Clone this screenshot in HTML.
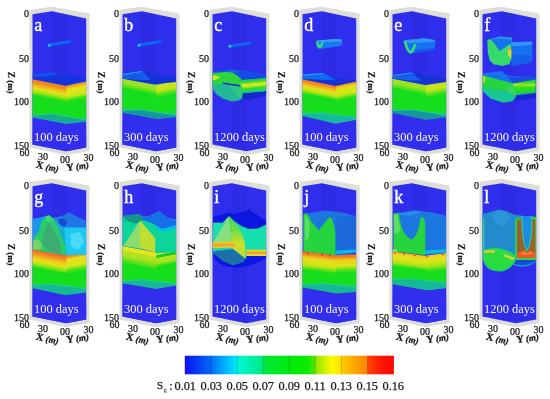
<!DOCTYPE html>
<html><head><meta charset="utf-8"><style>
html,body{margin:0;padding:0;background:#fff;}
svg{display:block;font-family:"Liberation Serif","Times New Roman",serif;}
</style></head><body>
<svg width="550" height="399" viewBox="0 0 550 399">
<defs><clipPath id="clipbox" clipPathUnits="userSpaceOnUse"><polygon points="32.5,14.2 51.9,11.2 86.2,18.5 86.2,147.4 66.2,151.3 32.5,144.5"/></clipPath><linearGradient id="g1" gradientUnits="userSpaceOnUse" x1="0" y1="85.3" x2="0" y2="124.5"><stop offset="0.0000" stop-color="rgb(40,190,170)"/><stop offset="0.0255" stop-color="rgb(240,122,35)"/><stop offset="0.0944" stop-color="rgb(242,140,30)"/><stop offset="0.1709" stop-color="rgb(240,188,30)"/><stop offset="0.2474" stop-color="rgb(226,228,25)"/><stop offset="0.3367" stop-color="rgb(150,228,20)"/><stop offset="0.4260" stop-color="rgb(25,222,30)"/><stop offset="0.8597" stop-color="rgb(25,222,30)"/><stop offset="1.0000" stop-color="rgb(20,205,100)"/></linearGradient><linearGradient id="g2" gradientUnits="userSpaceOnUse" x1="0" y1="85.3" x2="0" y2="124.5"><stop offset="0.0000" stop-color="rgb(40,190,170)"/><stop offset="0.0179" stop-color="rgb(240,140,32)"/><stop offset="0.0689" stop-color="rgb(238,185,30)"/><stop offset="0.1199" stop-color="rgb(228,228,25)"/><stop offset="0.2985" stop-color="rgb(205,230,25)"/><stop offset="0.3878" stop-color="rgb(60,225,25)"/><stop offset="0.4515" stop-color="rgb(25,222,30)"/><stop offset="0.8597" stop-color="rgb(25,222,30)"/><stop offset="1.0000" stop-color="rgb(20,205,100)"/></linearGradient><linearGradient id="g3" gradientUnits="userSpaceOnUse" x1="0" y1="84.5" x2="0" y2="119.2"><stop offset="0.0000" stop-color="rgb(40,200,160)"/><stop offset="0.0288" stop-color="rgb(150,226,35)"/><stop offset="0.1297" stop-color="rgb(160,226,35)"/><stop offset="0.2161" stop-color="rgb(100,225,30)"/><stop offset="0.3026" stop-color="rgb(25,222,30)"/><stop offset="0.8213" stop-color="rgb(25,222,30)"/><stop offset="1.0000" stop-color="rgb(20,205,120)"/></linearGradient><linearGradient id="g4" gradientUnits="userSpaceOnUse" x1="0" y1="84.5" x2="0" y2="119.2"><stop offset="0.0000" stop-color="rgb(40,200,160)"/><stop offset="0.0288" stop-color="rgb(200,228,30)"/><stop offset="0.1873" stop-color="rgb(200,228,28)"/><stop offset="0.3026" stop-color="rgb(80,225,30)"/><stop offset="0.3890" stop-color="rgb(25,222,30)"/><stop offset="0.8213" stop-color="rgb(25,222,30)"/><stop offset="1.0000" stop-color="rgb(20,205,120)"/></linearGradient><linearGradient id="g5" gradientUnits="userSpaceOnUse" x1="0" y1="85.0" x2="0" y2="123.8"><stop offset="0.0000" stop-color="rgb(40,190,170)"/><stop offset="0.0258" stop-color="rgb(240,118,38)"/><stop offset="0.0773" stop-color="rgb(242,135,32)"/><stop offset="0.1418" stop-color="rgb(240,185,30)"/><stop offset="0.2062" stop-color="rgb(228,226,26)"/><stop offset="0.3093" stop-color="rgb(170,228,22)"/><stop offset="0.3866" stop-color="rgb(25,222,30)"/><stop offset="0.8247" stop-color="rgb(25,222,30)"/><stop offset="1.0000" stop-color="rgb(20,205,110)"/></linearGradient><linearGradient id="g6" gradientUnits="userSpaceOnUse" x1="0" y1="85.0" x2="0" y2="123.8"><stop offset="0.0000" stop-color="rgb(40,190,170)"/><stop offset="0.0206" stop-color="rgb(240,140,32)"/><stop offset="0.0644" stop-color="rgb(238,190,30)"/><stop offset="0.1160" stop-color="rgb(228,228,25)"/><stop offset="0.2835" stop-color="rgb(200,230,25)"/><stop offset="0.3737" stop-color="rgb(60,225,25)"/><stop offset="0.4381" stop-color="rgb(25,222,30)"/><stop offset="0.8247" stop-color="rgb(25,222,30)"/><stop offset="1.0000" stop-color="rgb(20,205,110)"/></linearGradient><linearGradient id="g7" gradientUnits="userSpaceOnUse" x1="0" y1="84.5" x2="0" y2="120"><stop offset="0.0000" stop-color="rgb(40,200,160)"/><stop offset="0.0282" stop-color="rgb(150,226,35)"/><stop offset="0.1268" stop-color="rgb(160,226,35)"/><stop offset="0.2113" stop-color="rgb(100,225,30)"/><stop offset="0.2958" stop-color="rgb(25,222,30)"/><stop offset="0.8028" stop-color="rgb(25,222,30)"/><stop offset="1.0000" stop-color="rgb(20,205,120)"/></linearGradient><linearGradient id="g8" gradientUnits="userSpaceOnUse" x1="0" y1="84.5" x2="0" y2="120"><stop offset="0.0000" stop-color="rgb(40,200,160)"/><stop offset="0.0282" stop-color="rgb(200,228,30)"/><stop offset="0.1831" stop-color="rgb(200,228,28)"/><stop offset="0.2958" stop-color="rgb(80,225,30)"/><stop offset="0.3803" stop-color="rgb(25,222,30)"/><stop offset="0.8028" stop-color="rgb(25,222,30)"/><stop offset="1.0000" stop-color="rgb(20,205,120)"/></linearGradient><linearGradient id="g9" gradientUnits="userSpaceOnUse" x1="0" y1="82.6" x2="0" y2="123.2"><stop offset="0.0000" stop-color="rgb(240,95,40)"/><stop offset="0.0837" stop-color="rgb(244,118,34)"/><stop offset="0.1576" stop-color="rgb(242,160,30)"/><stop offset="0.2315" stop-color="rgb(236,205,28)"/><stop offset="0.3054" stop-color="rgb(225,228,25)"/><stop offset="0.4039" stop-color="rgb(140,228,25)"/><stop offset="0.4778" stop-color="rgb(25,222,30)"/><stop offset="0.8719" stop-color="rgb(25,222,30)"/><stop offset="1.0000" stop-color="rgb(20,205,100)"/></linearGradient><linearGradient id="g10" gradientUnits="userSpaceOnUse" x1="0" y1="82.6" x2="0" y2="123.2"><stop offset="0.0000" stop-color="rgb(240,120,35)"/><stop offset="0.0714" stop-color="rgb(240,150,30)"/><stop offset="0.1330" stop-color="rgb(230,222,28)"/><stop offset="0.3054" stop-color="rgb(215,230,25)"/><stop offset="0.4039" stop-color="rgb(80,225,25)"/><stop offset="0.4778" stop-color="rgb(25,222,30)"/><stop offset="0.8719" stop-color="rgb(25,222,30)"/><stop offset="1.0000" stop-color="rgb(20,205,100)"/></linearGradient><linearGradient id="g11" gradientUnits="userSpaceOnUse" x1="0" y1="80.5" x2="0" y2="117.1"><stop offset="0.0000" stop-color="rgb(232,230,30)"/><stop offset="0.1038" stop-color="rgb(228,230,30)"/><stop offset="0.1311" stop-color="rgb(185,226,35)"/><stop offset="0.2596" stop-color="rgb(170,226,32)"/><stop offset="0.3962" stop-color="rgb(90,224,30)"/><stop offset="0.4781" stop-color="rgb(25,222,30)"/><stop offset="0.9426" stop-color="rgb(25,222,30)"/><stop offset="1.0000" stop-color="rgb(20,205,100)"/></linearGradient><linearGradient id="g12" gradientUnits="userSpaceOnUse" x1="0" y1="79.8" x2="0" y2="117"><stop offset="0.0000" stop-color="rgb(232,230,30)"/><stop offset="0.0860" stop-color="rgb(225,228,30)"/><stop offset="0.1022" stop-color="rgb(20,200,40)"/><stop offset="0.1613" stop-color="rgb(30,205,40)"/><stop offset="0.1801" stop-color="rgb(180,228,30)"/><stop offset="0.3011" stop-color="rgb(165,228,30)"/><stop offset="0.4086" stop-color="rgb(25,222,30)"/><stop offset="0.9194" stop-color="rgb(25,222,30)"/><stop offset="1.0000" stop-color="rgb(20,205,100)"/></linearGradient><linearGradient id="g13" gradientUnits="userSpaceOnUse" x1="0" y1="83.0" x2="0" y2="123.5"><stop offset="0.0000" stop-color="rgb(240,105,42)"/><stop offset="0.0370" stop-color="rgb(242,118,38)"/><stop offset="0.0864" stop-color="rgb(240,150,32)"/><stop offset="0.1358" stop-color="rgb(236,200,28)"/><stop offset="0.1975" stop-color="rgb(226,226,25)"/><stop offset="0.3210" stop-color="rgb(205,228,25)"/><stop offset="0.3951" stop-color="rgb(120,226,25)"/><stop offset="0.4568" stop-color="rgb(25,222,30)"/><stop offset="0.8395" stop-color="rgb(25,222,30)"/><stop offset="1.0000" stop-color="rgb(20,200,110)"/></linearGradient><linearGradient id="g14" gradientUnits="userSpaceOnUse" x1="0" y1="82.8" x2="0" y2="123.5"><stop offset="0.0000" stop-color="rgb(240,110,40)"/><stop offset="0.0663" stop-color="rgb(242,130,32)"/><stop offset="0.1278" stop-color="rgb(236,205,28)"/><stop offset="0.2752" stop-color="rgb(220,230,25)"/><stop offset="0.3735" stop-color="rgb(90,225,25)"/><stop offset="0.4472" stop-color="rgb(25,222,30)"/><stop offset="0.8403" stop-color="rgb(25,222,30)"/><stop offset="1.0000" stop-color="rgb(20,200,110)"/></linearGradient><linearGradient id="g15" gradientUnits="userSpaceOnUse" x1="0" y1="83.8" x2="0" y2="118.5"><stop offset="0.0000" stop-color="rgb(240,175,40)"/><stop offset="0.0461" stop-color="rgb(238,200,35)"/><stop offset="0.0922" stop-color="rgb(228,224,28)"/><stop offset="0.2363" stop-color="rgb(215,228,25)"/><stop offset="0.3372" stop-color="rgb(150,226,25)"/><stop offset="0.4236" stop-color="rgb(25,222,30)"/><stop offset="0.8991" stop-color="rgb(25,222,30)"/><stop offset="1.0000" stop-color="rgb(20,205,100)"/></linearGradient><linearGradient id="g16" gradientUnits="userSpaceOnUse" x1="0" y1="83.5" x2="0" y2="118.5"><stop offset="0.0000" stop-color="rgb(238,185,38)"/><stop offset="0.0543" stop-color="rgb(228,222,28)"/><stop offset="0.2143" stop-color="rgb(212,230,25)"/><stop offset="0.3571" stop-color="rgb(140,226,25)"/><stop offset="0.4714" stop-color="rgb(25,222,30)"/><stop offset="0.9000" stop-color="rgb(25,222,30)"/><stop offset="1.0000" stop-color="rgb(20,205,100)"/></linearGradient><linearGradient id="g17" gradientUnits="userSpaceOnUse" x1="184.8" y1="0" x2="210.9" y2="0"><stop offset="0" stop-color="rgb(15,15,245)"/><stop offset="1" stop-color="rgb(0,105,245)"/></linearGradient><linearGradient id="g18" gradientUnits="userSpaceOnUse" x1="210.9" y1="0" x2="237.0" y2="0"><stop offset="0" stop-color="rgb(0,110,250)"/><stop offset="1" stop-color="rgb(0,235,255)"/></linearGradient><linearGradient id="g19" gradientUnits="userSpaceOnUse" x1="237.0" y1="0" x2="263.1" y2="0"><stop offset="0" stop-color="rgb(0,245,215)"/><stop offset="1" stop-color="rgb(0,235,130)"/></linearGradient><linearGradient id="g20" gradientUnits="userSpaceOnUse" x1="263.1" y1="0" x2="289.20000000000005" y2="0"><stop offset="0" stop-color="rgb(0,232,60)"/><stop offset="1" stop-color="rgb(0,235,15)"/></linearGradient><linearGradient id="g21" gradientUnits="userSpaceOnUse" x1="289.20000000000005" y1="0" x2="315.30000000000007" y2="0"><stop offset="0" stop-color="rgb(0,235,10)"/><stop offset="0.7" stop-color="rgb(10,235,0)"/><stop offset="1" stop-color="rgb(90,230,0)"/></linearGradient><linearGradient id="g22" gradientUnits="userSpaceOnUse" x1="315.3" y1="0" x2="341.40000000000003" y2="0"><stop offset="0" stop-color="rgb(140,230,0)"/><stop offset="0.65" stop-color="rgb(255,250,0)"/><stop offset="1" stop-color="rgb(250,225,0)"/></linearGradient><linearGradient id="g23" gradientUnits="userSpaceOnUse" x1="341.40000000000003" y1="0" x2="367.50000000000006" y2="0"><stop offset="0" stop-color="rgb(255,205,0)"/><stop offset="1" stop-color="rgb(255,130,0)"/></linearGradient><linearGradient id="g24" gradientUnits="userSpaceOnUse" x1="367.5" y1="0" x2="393.6" y2="0"><stop offset="0" stop-color="rgb(255,70,0)"/><stop offset="0.5" stop-color="rgb(255,25,0)"/><stop offset="1" stop-color="rgb(255,5,0)"/></linearGradient>
<linearGradient id="trii" gradientUnits="userSpaceOnUse" x1="0" y1="45" x2="0" y2="84">
<stop offset="0" stop-color="rgb(70,215,100)"/><stop offset="0.35" stop-color="rgb(110,220,70)"/>
<stop offset="0.65" stop-color="rgb(200,222,45)"/><stop offset="1" stop-color="rgb(200,220,50)"/></linearGradient>
<linearGradient id="bandc" gradientUnits="userSpaceOnUse" x1="0" y1="79" x2="0" y2="92">
<stop offset="0" stop-color="rgb(40,210,80)"/><stop offset="0.18" stop-color="rgb(60,220,40)"/>
<stop offset="0.42" stop-color="rgb(225,232,25)"/><stop offset="0.58" stop-color="rgb(160,228,30)"/>
<stop offset="0.8" stop-color="rgb(40,215,60)"/><stop offset="1" stop-color="rgb(10,200,170)"/></linearGradient>
<linearGradient id="bandf" gradientUnits="userSpaceOnUse" x1="0" y1="79" x2="0" y2="95">
<stop offset="0" stop-color="rgb(40,210,80)"/><stop offset="0.2" stop-color="rgb(40,222,30)"/>
<stop offset="0.38" stop-color="rgb(175,230,30)"/><stop offset="0.5" stop-color="rgb(60,222,30)"/>
<stop offset="0.85" stop-color="rgb(25,215,50)"/><stop offset="1" stop-color="rgb(10,200,170)"/></linearGradient>
<filter id="soft" x="-5%" y="-5%" width="110%" height="110%"><feGaussianBlur stdDeviation="0.45"/></filter></defs>
<rect width="550" height="399" fill="#fff"/>
<g transform="translate(0,0)"><polygon points="29.4,9.8 51.9,6.8 89.6,13.6 89.6,151.0 66.2,155.3 29.6,147.6" fill="rgb(222,222,216)"/><polygon points="32.5,14.2 51.9,11.2 86.2,18.5 86.2,147.4 66.2,151.3 32.5,144.5" fill="rgb(48,46,237)"/><g clip-path="url(#clipbox)"><rect x="51.9" y="0" width="14.300000000000004" height="160" fill="rgb(0,0,60)" opacity="0.06"/><g filter="url(#soft)"><g transform="matrix(1,0.2,0,1,0,-13.240)"><rect x="31.5" y="85.3" width="35.5" height="39.2" fill="url(#g1)"/></g><g transform="matrix(1,-0.195,0,1,0,12.909)"><rect x="66.2" y="85.3" width="21.0" height="39.2" fill="url(#g2)"/></g><polygon points="32.5,74.2 51.3,72.1 86.2,78.9 86.2,80.6 65.6,85.7 32.5,79.2" fill="rgb(22,50,222)"/><polygon points="32.5,115.6 51.8,113.7 86.2,120.0 86.2,121.4 66,123.4 32.5,117.2" fill="rgb(22,172,138)"/><polyline points="32.5,115.6 51.8,113.7 86.2,120.0" fill="none" stroke="rgb(40,210,200)" stroke-width="0.8" opacity="0.7"/><polygon points="32.5,74.2 51.3,72.1 60,74 45,76.5 32.5,77" fill="rgb(20,80,235)"/><polygon points="86.2,121.4 66,123.4 32.5,117.2 31,160 88,160" fill="rgb(48,46,237)"/><polyline points="86.2,121.4 66,123.4 32.5,117.2" fill="none" stroke="rgb(30,200,210)" stroke-width="0.7" opacity="0.8"/><line x1="49.2" y1="45.2" x2="69.8" y2="42" stroke="rgb(10,88,242)" stroke-width="3.2" stroke-linecap="round"/><line x1="50.2" y1="44.400000000000006" x2="69.8" y2="41.2" stroke="rgb(25,120,245)" stroke-width="1"/><circle cx="49.2" cy="45.2" r="1.5" fill="rgb(30,190,240)"/></g></g><text x="34.2" y="30.8" font-size="18" fill="#fff" text-anchor="start" stroke="#fff" stroke-width="0.35">a</text><text x="34.0" y="141" font-size="12.45" fill="#f4f4ff" text-anchor="start">100 days</text><text x="29" y="17.1" font-size="10" fill="#1a1a1a" text-anchor="end" stroke="#1a1a1a" stroke-width="0.25">0</text><text x="29" y="61.6" font-size="10" fill="#1a1a1a" text-anchor="end" stroke="#1a1a1a" stroke-width="0.25">50</text><text x="29" y="105.0" font-size="10" fill="#1a1a1a" text-anchor="end" stroke="#1a1a1a" stroke-width="0.25">100</text><text x="29" y="148.8" font-size="10" fill="#1a1a1a" text-anchor="end" stroke="#1a1a1a" stroke-width="0.25">150</text><text x="29.5" y="155.5" font-size="10" fill="#1a1a1a" text-anchor="end" stroke="#1a1a1a" stroke-width="0.25">60</text><text x="43" y="159.6" font-size="10" fill="#1a1a1a" text-anchor="middle" stroke="#1a1a1a" stroke-width="0.25">30</text><text x="65" y="162.8" font-size="10" fill="#1a1a1a" text-anchor="middle" stroke="#1a1a1a" stroke-width="0.25">00</text><text x="88.5" y="161" font-size="10" fill="#1a1a1a" text-anchor="middle" stroke="#1a1a1a" stroke-width="0.25">30</text><text transform="translate(35.6,167.6) rotate(12)" font-size="10.2" font-weight="bold" fill="#1a1a1a" stroke="#1a1a1a" stroke-width="0.3">X <tspan font-style="italic" font-size="9">(m)</tspan></text><text transform="translate(67,171) rotate(-8)" font-size="10" font-weight="bold" fill="#1a1a1a" stroke="#1a1a1a" stroke-width="0.3">Y <tspan font-style="italic" font-size="9">(m)</tspan></text><text transform="translate(7.6,71.8) rotate(90)" font-size="9.3" font-weight="bold" fill="#1a1a1a" stroke="#1a1a1a" stroke-width="0.2">Z <tspan font-size="8.8">(m)</tspan></text></g><g transform="translate(90,0)"><polygon points="29.4,9.8 51.9,6.8 89.6,13.6 89.6,151.0 66.2,155.3 29.6,147.6" fill="rgb(222,222,216)"/><polygon points="32.5,14.2 51.9,11.2 86.2,18.5 86.2,147.4 66.2,151.3 32.5,144.5" fill="rgb(48,46,237)"/><g clip-path="url(#clipbox)"><rect x="51.9" y="0" width="14.300000000000004" height="160" fill="rgb(0,0,60)" opacity="0.06"/><g filter="url(#soft)"><g transform="matrix(1,0.2,0,1,0,-13.240)"><rect x="31.5" y="84.5" width="35.5" height="34.7" fill="url(#g3)"/></g><g transform="matrix(1,-0.195,0,1,0,12.909)"><rect x="66.2" y="84.5" width="21.0" height="34.7" fill="url(#g4)"/></g><polygon points="32.5,74.1 51.3,71.0 86.2,77.2 86.2,81.9 63,84.2 32.5,78.8" fill="rgb(20,48,215)"/><polygon points="32.5,110.6 51.3,109.8 86.2,115.3 86.2,117.6 66.8,119.2 32.5,113" fill="rgb(25,150,160)"/><polyline points="32.5,110.6 51.3,109.8 86.2,115.3" fill="none" stroke="rgb(40,210,200)" stroke-width="0.8" opacity="0.7"/><polygon points="32.5,74.1 51.3,71.0 54,72 56,75.5 61,80 50,80 32.5,78.8" fill="rgb(20,90,236)"/><polygon points="32.5,74.1 51.3,71.0 52,72 33,75.2" fill="rgb(40,150,245)"/><polygon points="86.2,117.6 66.8,119.2 32.5,113 31,160 88,160" fill="rgb(48,46,237)"/><line x1="49" y1="45.2" x2="70.3" y2="41.8" stroke="rgb(10,88,242)" stroke-width="3.2" stroke-linecap="round"/><line x1="50" y1="44.400000000000006" x2="70.3" y2="41.0" stroke="rgb(25,120,245)" stroke-width="1"/><circle cx="49" cy="45.2" r="1.5" fill="rgb(30,190,240)"/></g></g><text x="34.2" y="30.8" font-size="18" fill="#fff" text-anchor="start" stroke="#fff" stroke-width="0.35">b</text><text x="34.0" y="141" font-size="12.45" fill="#f4f4ff" text-anchor="start">300 days</text><text x="29" y="17.1" font-size="10" fill="#1a1a1a" text-anchor="end" stroke="#1a1a1a" stroke-width="0.25">0</text><text x="29" y="61.6" font-size="10" fill="#1a1a1a" text-anchor="end" stroke="#1a1a1a" stroke-width="0.25">50</text><text x="29" y="105.0" font-size="10" fill="#1a1a1a" text-anchor="end" stroke="#1a1a1a" stroke-width="0.25">100</text><text x="29" y="148.8" font-size="10" fill="#1a1a1a" text-anchor="end" stroke="#1a1a1a" stroke-width="0.25">150</text><text x="29.5" y="155.5" font-size="10" fill="#1a1a1a" text-anchor="end" stroke="#1a1a1a" stroke-width="0.25">60</text><text x="43" y="159.6" font-size="10" fill="#1a1a1a" text-anchor="middle" stroke="#1a1a1a" stroke-width="0.25">30</text><text x="65" y="162.8" font-size="10" fill="#1a1a1a" text-anchor="middle" stroke="#1a1a1a" stroke-width="0.25">00</text><text x="88.5" y="161" font-size="10" fill="#1a1a1a" text-anchor="middle" stroke="#1a1a1a" stroke-width="0.25">30</text><text transform="translate(35.6,167.6) rotate(12)" font-size="10.2" font-weight="bold" fill="#1a1a1a" stroke="#1a1a1a" stroke-width="0.3">X <tspan font-style="italic" font-size="9">(m)</tspan></text><text transform="translate(67,171) rotate(-8)" font-size="10" font-weight="bold" fill="#1a1a1a" stroke="#1a1a1a" stroke-width="0.3">Y <tspan font-style="italic" font-size="9">(m)</tspan></text><text transform="translate(7.6,71.8) rotate(90)" font-size="9.3" font-weight="bold" fill="#1a1a1a" stroke="#1a1a1a" stroke-width="0.2">Z <tspan font-size="8.8">(m)</tspan></text></g><g transform="translate(180,0)"><polygon points="29.4,9.8 51.9,6.8 89.6,13.6 89.6,151.0 66.2,155.3 29.6,147.6" fill="rgb(222,222,216)"/><polygon points="32.5,14.2 51.9,11.2 86.2,18.5 86.2,147.4 66.2,151.3 32.5,144.5" fill="rgb(48,46,237)"/><g clip-path="url(#clipbox)"><rect x="51.9" y="0" width="14.300000000000004" height="160" fill="rgb(0,0,60)" opacity="0.06"/><g filter="url(#soft)"><polygon points="32.5,71.4 51,69.2 70,71 86.2,75.2 86.2,79 63,81 32.5,75" fill="rgb(25,75,228)"/><polygon points="40,72 51,69.5 62,71.5 55,73.5" fill="rgb(30,95,235)"/><polygon points="32.5,73 45,72 52,72.5 58,76 63,81 63,86 45,84 32.5,87.5" fill="rgb(45,214,60)"/><polygon points="32.5,75.5 36,75.6 40,77 36,79.8 32.5,80.2" fill="rgb(205,230,35)"/><path d="M32.5,85 L44,83.5 L62,86 L67.5,89.6 L65.3,95 L58.7,100.6 L52,101.6 L43.2,98.8 L36.6,94.5 L32.5,89 Z" fill="rgb(35,184,150)"/><path d="M50,86 L62,86 L67.5,89.6 L65.3,95 L60.5,99.5 Z" fill="rgb(45,200,125)"/><polygon points="42,82.2 63,85.4 60,86.6 44,83.9" fill="rgb(20,40,200)"/><polygon points="63,92 86.2,90 86.2,95.5 66.4,100.5 62,98" fill="rgb(25,38,205)"/><polygon points="58,80.3 86.2,78.3 86.2,91 62.5,93.3" fill="rgb(45,216,55)"/><polygon points="61,84.2 86.2,81.8 86.2,85.3 62.5,87.3" fill="rgb(215,230,32)"/><polygon points="60,83.2 86.2,80.8 86.2,81.9 61,84.3" fill="rgb(130,225,35)"/><polygon points="62.5,87.2 86.2,85.2 86.2,86.5 62.8,88.5" fill="rgb(130,225,35)"/><polygon points="62.5,91.5 86.2,89.5 86.2,91 62.5,93.3" fill="rgb(10,200,160)"/><polygon points="58,80.3 86.2,78.3 86.2,79.3 59,81.3" fill="rgb(30,200,110)"/><line x1="50" y1="46.3" x2="70.2" y2="43.3" stroke="rgb(10,88,242)" stroke-width="3.2" stroke-linecap="round"/><line x1="51" y1="45.5" x2="70.2" y2="42.5" stroke="rgb(25,120,245)" stroke-width="1"/><circle cx="50" cy="46.3" r="1.5" fill="rgb(30,205,170)"/></g></g><text x="34.2" y="30.8" font-size="18" fill="#fff" text-anchor="start" stroke="#fff" stroke-width="0.35">c</text><text x="34.0" y="141" font-size="12.45" fill="#f4f4ff" text-anchor="start">1200 days</text><text x="29" y="17.1" font-size="10" fill="#1a1a1a" text-anchor="end" stroke="#1a1a1a" stroke-width="0.25">0</text><text x="29" y="61.6" font-size="10" fill="#1a1a1a" text-anchor="end" stroke="#1a1a1a" stroke-width="0.25">50</text><text x="29" y="105.0" font-size="10" fill="#1a1a1a" text-anchor="end" stroke="#1a1a1a" stroke-width="0.25">100</text><text x="29" y="148.8" font-size="10" fill="#1a1a1a" text-anchor="end" stroke="#1a1a1a" stroke-width="0.25">150</text><text x="29.5" y="155.5" font-size="10" fill="#1a1a1a" text-anchor="end" stroke="#1a1a1a" stroke-width="0.25">60</text><text x="43" y="159.6" font-size="10" fill="#1a1a1a" text-anchor="middle" stroke="#1a1a1a" stroke-width="0.25">30</text><text x="65" y="162.8" font-size="10" fill="#1a1a1a" text-anchor="middle" stroke="#1a1a1a" stroke-width="0.25">00</text><text x="88.5" y="161" font-size="10" fill="#1a1a1a" text-anchor="middle" stroke="#1a1a1a" stroke-width="0.25">30</text><text transform="translate(35.6,167.6) rotate(12)" font-size="10.2" font-weight="bold" fill="#1a1a1a" stroke="#1a1a1a" stroke-width="0.3">X <tspan font-style="italic" font-size="9">(m)</tspan></text><text transform="translate(67,171) rotate(-8)" font-size="10" font-weight="bold" fill="#1a1a1a" stroke="#1a1a1a" stroke-width="0.3">Y <tspan font-style="italic" font-size="9">(m)</tspan></text><text transform="translate(7.6,71.8) rotate(90)" font-size="9.3" font-weight="bold" fill="#1a1a1a" stroke="#1a1a1a" stroke-width="0.2">Z <tspan font-size="8.8">(m)</tspan></text></g><g transform="translate(270,0)"><polygon points="29.4,9.8 51.9,6.8 89.6,13.6 89.6,151.0 66.2,155.3 29.6,147.6" fill="rgb(222,222,216)"/><polygon points="32.5,14.2 51.9,11.2 86.2,18.5 86.2,147.4 66.2,151.3 32.5,144.5" fill="rgb(48,46,237)"/><g clip-path="url(#clipbox)"><rect x="51.9" y="0" width="14.300000000000004" height="160" fill="rgb(0,0,60)" opacity="0.06"/><g filter="url(#soft)"><g transform="matrix(1,0.2,0,1,0,-13.240)"><rect x="31.5" y="85.0" width="35.5" height="38.8" fill="url(#g5)"/></g><g transform="matrix(1,-0.195,0,1,0,12.909)"><rect x="66.2" y="85.0" width="21.0" height="38.8" fill="url(#g6)"/></g><polygon points="32.5,75 52.9,73.3 58,76.5 86.2,80.5 86.2,81.5 65.5,86 32.5,79.3" fill="rgb(22,50,215)"/><polygon points="32.5,113.7 52.9,113 86.2,117.6 86.2,120 65.3,123.8 32.5,116" fill="rgb(25,185,155)"/><polyline points="32.5,113.7 52.9,113 86.2,117.6" fill="none" stroke="rgb(40,210,200)" stroke-width="0.8" opacity="0.7"/><polygon points="32.5,74.6 52.9,73 57.5,75.5 66.4,79.5 56,80 32.5,78.8" fill="rgb(15,108,242)"/><polygon points="32.5,74.6 52.9,73 54,73.8 33,75.8" fill="rgb(40,160,250)"/><polygon points="86.2,120 65.3,123.8 32.5,116 31,160 88,160" fill="rgb(48,46,237)"/><path d="M46.9,40.6 L65.2,39.1 L71.3,39.5 Q72.4,40 72.2,41.5 L71.8,44.8 Q71.4,45.8 70.2,46 L53.4,48.6 L49,49 Q46.2,48.5 46.1,45 Z" fill="rgb(25,122,245)"/><path d="M46.9,40.6 L65.2,39.1 L71.3,39.5 Q72.3,40 72.2,41.2 L47.5,42.6 Z" fill="rgb(55,158,250)"/><path d="M46.1,41 Q46.5,47.5 49.5,48.3 Q52.5,48 53.4,42.5 L52.5,41 Q51.5,44.5 49.5,44.5 Q47.8,44 47.3,40.8 Z" fill="rgb(50,222,110)"/></g></g><text x="34.2" y="30.8" font-size="18" fill="#fff" text-anchor="start" stroke="#fff" stroke-width="0.35">d</text><text x="34.0" y="141" font-size="12.45" fill="#f4f4ff" text-anchor="start">100 days</text><text x="29" y="17.1" font-size="10" fill="#1a1a1a" text-anchor="end" stroke="#1a1a1a" stroke-width="0.25">0</text><text x="29" y="61.6" font-size="10" fill="#1a1a1a" text-anchor="end" stroke="#1a1a1a" stroke-width="0.25">50</text><text x="29" y="105.0" font-size="10" fill="#1a1a1a" text-anchor="end" stroke="#1a1a1a" stroke-width="0.25">100</text><text x="29" y="148.8" font-size="10" fill="#1a1a1a" text-anchor="end" stroke="#1a1a1a" stroke-width="0.25">150</text><text x="29.5" y="155.5" font-size="10" fill="#1a1a1a" text-anchor="end" stroke="#1a1a1a" stroke-width="0.25">60</text><text x="43" y="159.6" font-size="10" fill="#1a1a1a" text-anchor="middle" stroke="#1a1a1a" stroke-width="0.25">30</text><text x="65" y="162.8" font-size="10" fill="#1a1a1a" text-anchor="middle" stroke="#1a1a1a" stroke-width="0.25">00</text><text x="88.5" y="161" font-size="10" fill="#1a1a1a" text-anchor="middle" stroke="#1a1a1a" stroke-width="0.25">30</text><text transform="translate(35.6,167.6) rotate(12)" font-size="10.2" font-weight="bold" fill="#1a1a1a" stroke="#1a1a1a" stroke-width="0.3">X <tspan font-style="italic" font-size="9">(m)</tspan></text><text transform="translate(67,171) rotate(-8)" font-size="10" font-weight="bold" fill="#1a1a1a" stroke="#1a1a1a" stroke-width="0.3">Y <tspan font-style="italic" font-size="9">(m)</tspan></text><text transform="translate(7.6,71.8) rotate(90)" font-size="9.3" font-weight="bold" fill="#1a1a1a" stroke="#1a1a1a" stroke-width="0.2">Z <tspan font-size="8.8">(m)</tspan></text></g><g transform="translate(360,0)"><polygon points="29.4,9.8 51.9,6.8 89.6,13.6 89.6,151.0 66.2,155.3 29.6,147.6" fill="rgb(222,222,216)"/><polygon points="32.5,14.2 51.9,11.2 86.2,18.5 86.2,147.4 66.2,151.3 32.5,144.5" fill="rgb(48,46,237)"/><g clip-path="url(#clipbox)"><rect x="51.9" y="0" width="14.300000000000004" height="160" fill="rgb(0,0,60)" opacity="0.06"/><g filter="url(#soft)"><g transform="matrix(1,0.2,0,1,0,-13.240)"><rect x="31.5" y="84.5" width="35.5" height="35.5" fill="url(#g7)"/></g><g transform="matrix(1,-0.195,0,1,0,12.909)"><rect x="66.2" y="84.5" width="21.0" height="35.5" fill="url(#g8)"/></g><polygon points="32.5,74.9 52.9,72.5 86.2,78 86.2,81.9 65.7,85 32.5,78.8" fill="rgb(20,48,215)"/><polygon points="32.5,110.6 52.9,109.8 86.2,115.3 86.2,117.6 66.5,120 32.5,113" fill="rgb(25,150,160)"/><polyline points="32.5,110.6 52.9,109.8 86.2,115.3" fill="none" stroke="rgb(40,210,200)" stroke-width="0.8" opacity="0.7"/><polygon points="32.5,74.9 51.3,72.5 54,73.3 55.5,76 62,80.5 50,80.5 32.5,78.8" fill="rgb(20,95,238)"/><polygon points="32.5,74.9 51.3,72.5 52,73.3 33,76" fill="rgb(40,150,245)"/><polygon points="86.2,117.6 66.5,120 32.5,113 31,160 88,160" fill="rgb(48,46,237)"/><path d="M44,40.3 L64.7,38.3 L74.6,39.9 Q75.8,41 75.4,43 L74.6,49 Q74,50.2 72,50.5 L55.6,52.8 L50,53.6 Z" fill="rgb(22,115,240)"/><path d="M44,40.3 L64.7,38.3 L74.6,39.9 L75.2,41.8 L46,43.2 Z" fill="rgb(50,150,250)"/><path d="M56,50 L74.6,47.5 L74.6,49 Q74,50.2 72,50.5 L55.6,52.8 Z" fill="rgb(20,90,230)"/><path d="M44.6,41.4 L47.6,49.5 Q49.5,53 51.5,52 L54.5,46.5 L55.2,44.2" fill="none" stroke="rgb(55,222,115)" stroke-width="2.6" stroke-linejoin="round"/></g></g><text x="34.2" y="30.8" font-size="18" fill="#fff" text-anchor="start" stroke="#fff" stroke-width="0.35">e</text><text x="34.0" y="141" font-size="12.45" fill="#f4f4ff" text-anchor="start">300 days</text><text x="29" y="17.1" font-size="10" fill="#1a1a1a" text-anchor="end" stroke="#1a1a1a" stroke-width="0.25">0</text><text x="29" y="61.6" font-size="10" fill="#1a1a1a" text-anchor="end" stroke="#1a1a1a" stroke-width="0.25">50</text><text x="29" y="105.0" font-size="10" fill="#1a1a1a" text-anchor="end" stroke="#1a1a1a" stroke-width="0.25">100</text><text x="29" y="148.8" font-size="10" fill="#1a1a1a" text-anchor="end" stroke="#1a1a1a" stroke-width="0.25">150</text><text x="29.5" y="155.5" font-size="10" fill="#1a1a1a" text-anchor="end" stroke="#1a1a1a" stroke-width="0.25">60</text><text x="43" y="159.6" font-size="10" fill="#1a1a1a" text-anchor="middle" stroke="#1a1a1a" stroke-width="0.25">30</text><text x="65" y="162.8" font-size="10" fill="#1a1a1a" text-anchor="middle" stroke="#1a1a1a" stroke-width="0.25">00</text><text x="88.5" y="161" font-size="10" fill="#1a1a1a" text-anchor="middle" stroke="#1a1a1a" stroke-width="0.25">30</text><text transform="translate(35.6,167.6) rotate(12)" font-size="10.2" font-weight="bold" fill="#1a1a1a" stroke="#1a1a1a" stroke-width="0.3">X <tspan font-style="italic" font-size="9">(m)</tspan></text><text transform="translate(67,171) rotate(-8)" font-size="10" font-weight="bold" fill="#1a1a1a" stroke="#1a1a1a" stroke-width="0.3">Y <tspan font-style="italic" font-size="9">(m)</tspan></text><text transform="translate(7.6,71.8) rotate(90)" font-size="9.3" font-weight="bold" fill="#1a1a1a" stroke="#1a1a1a" stroke-width="0.2">Z <tspan font-size="8.8">(m)</tspan></text></g><g transform="translate(450,0)"><polygon points="29.4,9.8 51.9,6.8 89.6,13.6 89.6,151.0 66.2,155.3 29.6,147.6" fill="rgb(222,222,216)"/><polygon points="32.5,14.2 51.9,11.2 86.2,18.5 86.2,147.4 66.2,151.3 32.5,144.5" fill="rgb(48,46,237)"/><g clip-path="url(#clipbox)"><rect x="51.9" y="0" width="14.300000000000004" height="160" fill="rgb(0,0,60)" opacity="0.06"/><g filter="url(#soft)"><path d="M32.5,74.5 L45,77.5 L58,80.5 L66,85 L66,96.3 L62.6,100.9 L53.3,102.6 L40.7,98.6 L32.5,90 Z" fill="rgb(40,212,62)"/><polygon points="32.5,75 36,77.5 35,82 32.5,83" fill="rgb(150,222,50)"/><path d="M32.5,87.8 L45,89.5 L60,91.5 L66,96.3 L62.6,100.9 L53.3,102.6 L40.7,98.6 L32.5,91 Z" fill="rgb(25,198,150)"/><polygon points="55,88 62,84 66,86 66,96.3 60,93" fill="rgb(60,210,90)"/><polygon points="66,96.3 85.6,94 85.6,97.4 66,100.9" fill="rgb(25,40,205)"/><polygon points="62.6,82.4 85.6,77.8 85.6,92.8 66,95.1" fill="url(#bandf)"/><polygon points="33.2,73.2 52.2,70.9 56.8,75.5 85.6,77.8 85.6,79.5 62.6,83.2 33.2,75.5" fill="rgb(22,112,240)"/><polygon points="58,76.5 85.6,78 85.6,79.5 62.6,83.2" fill="rgb(30,78,226)"/><polygon points="37.4,39.8 50,36.4 62.3,37.5 62.3,60 52.5,65.7 43.8,64.3 39.8,60.4 37.9,52.5" fill="rgb(25,115,238)"/><polygon points="37.4,39.8 50,36.4 62.3,37.5 61,40 50,38.5 40.8,39.4" fill="rgb(40,145,245)"/><polygon points="61.3,42.3 82.1,41.6 82.6,60 80,62.5 61.3,66.1" fill="rgb(22,112,240)"/><polygon points="61.3,42.3 82.1,41.6 82.3,45 61.3,46.5" fill="rgb(45,150,250)"/><polygon points="61.3,55 82.4,55 80,62.5 61.3,66.1" fill="rgb(25,95,232)"/><path d="M37.4,39.8 L40.8,39.4 L43.8,42.8 L49.6,51.1 L55,47.5 L58.4,44.7 L60.4,44.2 L61.3,46.7 L61.3,58.4 L59.4,64.3 L52.5,65.7 L43.8,64.3 L39.8,60.4 L37.9,52.5 Z" fill="rgb(55,220,110)"/><path d="M38.5,41 L44,55 L49.6,57 L55,55 L59,48" fill="none" stroke="rgb(30,160,90)" stroke-width="0.5" stroke-dasharray="1,1.5"/><polygon points="57.4,50.5 60,47.5 61.3,49.6 61.3,58.4 58.5,56" fill="rgb(225,215,40)"/><polygon points="58.5,48.5 60,47.2 61,48.5 59.5,51" fill="rgb(240,140,40)"/></g></g><text x="34.2" y="30.8" font-size="18" fill="#fff" text-anchor="start" stroke="#fff" stroke-width="0.35">f</text><text x="34.0" y="141" font-size="12.45" fill="#f4f4ff" text-anchor="start">1200 days</text><text x="29" y="17.1" font-size="10" fill="#1a1a1a" text-anchor="end" stroke="#1a1a1a" stroke-width="0.25">0</text><text x="29" y="61.6" font-size="10" fill="#1a1a1a" text-anchor="end" stroke="#1a1a1a" stroke-width="0.25">50</text><text x="29" y="105.0" font-size="10" fill="#1a1a1a" text-anchor="end" stroke="#1a1a1a" stroke-width="0.25">100</text><text x="29" y="148.8" font-size="10" fill="#1a1a1a" text-anchor="end" stroke="#1a1a1a" stroke-width="0.25">150</text><text x="29.5" y="155.5" font-size="10" fill="#1a1a1a" text-anchor="end" stroke="#1a1a1a" stroke-width="0.25">60</text><text x="43" y="159.6" font-size="10" fill="#1a1a1a" text-anchor="middle" stroke="#1a1a1a" stroke-width="0.25">30</text><text x="65" y="162.8" font-size="10" fill="#1a1a1a" text-anchor="middle" stroke="#1a1a1a" stroke-width="0.25">00</text><text x="88.5" y="161" font-size="10" fill="#1a1a1a" text-anchor="middle" stroke="#1a1a1a" stroke-width="0.25">30</text><text transform="translate(35.6,167.6) rotate(12)" font-size="10.2" font-weight="bold" fill="#1a1a1a" stroke="#1a1a1a" stroke-width="0.3">X <tspan font-style="italic" font-size="9">(m)</tspan></text><text transform="translate(67,171) rotate(-8)" font-size="10" font-weight="bold" fill="#1a1a1a" stroke="#1a1a1a" stroke-width="0.3">Y <tspan font-style="italic" font-size="9">(m)</tspan></text><text transform="translate(7.6,71.8) rotate(90)" font-size="9.3" font-weight="bold" fill="#1a1a1a" stroke="#1a1a1a" stroke-width="0.2">Z <tspan font-size="8.8">(m)</tspan></text></g><g transform="translate(0,172)"><polygon points="29.4,9.8 51.9,6.8 89.6,13.6 89.6,151.0 66.2,155.3 29.6,147.6" fill="rgb(222,222,216)"/><polygon points="32.5,14.2 51.9,11.2 86.2,18.5 86.2,147.4 66.2,151.3 32.5,144.5" fill="rgb(48,46,237)"/><g clip-path="url(#clipbox)"><rect x="51.9" y="0" width="14.300000000000004" height="160" fill="rgb(0,0,60)" opacity="0.06"/><g filter="url(#soft)"><g transform="matrix(1,0.2,0,1,0,-13.240)"><rect x="31.5" y="82.6" width="35.5" height="40.60000000000001" fill="url(#g9)"/></g><g transform="matrix(1,-0.195,0,1,0,12.909)"><rect x="66.2" y="82.6" width="21.0" height="40.60000000000001" fill="url(#g10)"/></g><polygon points="32.5,113.1 51.3,112.3 86.2,116.2 86.2,120.8 65.3,123.2 32.5,116.2" fill="rgb(25,185,150)"/><polyline points="32.5,113.1 51.3,112.3 86.2,116.2" fill="none" stroke="rgb(40,210,200)" stroke-width="0.8" opacity="0.7"/><polygon points="86.2,120.8 65.3,123.2 32.5,116.2 31,160 88,160" fill="rgb(48,46,237)"/><polygon points="32.1,46.8 37.6,46.1 48.7,43.3 52.8,46.1 62.4,44 69.3,40.6 73.5,43.3 84.5,48.2 86.5,49.5 86.5,82.5 65.3,83.2 32.5,77.6" fill="rgb(30,150,232)"/><polygon points="52.8,46.1 62.4,44 69.3,40.6 73.5,43.3 84.5,48.2 86.5,49.5 86.5,56 66,55.5 58,49" fill="rgb(35,115,228)"/><polygon points="58,47.5 64,46.5 67,50 64.5,55 59.5,53" fill="rgb(22,72,214)"/><polygon points="64,55.5 86.5,55.5 86.5,82.5 66.6,83 65,70" fill="rgb(28,200,240)"/><polygon points="70,62 80,60 84,70 78,78 71,74" fill="rgb(75,218,245)"/><polygon points="56,50 64,55.5 65,70 66.6,83 63,83 59,62" fill="rgb(25,170,205)"/><polygon points="33.5,66.1 39,59.2 41.8,48.2 48.7,43.3 54.2,46.8 59.7,60.6 65.2,74.3 66.6,82.8 50,80.5 33,77.5" fill="rgb(42,205,105)"/><polygon points="44,60 49,50 54,58 59,68 62,77 60,81 48,79 42,70" fill="rgb(62,172,112)"/><polygon points="33.5,68.8 38,67 41.8,72 41,77.5 33,77.5" fill="rgb(120,212,100)"/><polygon points="45,45 48.7,43.3 52,46 50,50 46,49" fill="rgb(60,220,110)"/></g></g><text x="34.2" y="30.8" font-size="18" fill="#fff" text-anchor="start" stroke="#fff" stroke-width="0.35">g</text><text x="34.0" y="141" font-size="12.45" fill="#f4f4ff" text-anchor="start">100 days</text><text x="29" y="17.1" font-size="10" fill="#1a1a1a" text-anchor="end" stroke="#1a1a1a" stroke-width="0.25">0</text><text x="29" y="61.6" font-size="10" fill="#1a1a1a" text-anchor="end" stroke="#1a1a1a" stroke-width="0.25">50</text><text x="29" y="105.0" font-size="10" fill="#1a1a1a" text-anchor="end" stroke="#1a1a1a" stroke-width="0.25">100</text><text x="29" y="148.8" font-size="10" fill="#1a1a1a" text-anchor="end" stroke="#1a1a1a" stroke-width="0.25">150</text><text x="29.5" y="155.5" font-size="10" fill="#1a1a1a" text-anchor="end" stroke="#1a1a1a" stroke-width="0.25">60</text><text x="43" y="159.6" font-size="10" fill="#1a1a1a" text-anchor="middle" stroke="#1a1a1a" stroke-width="0.25">30</text><text x="65" y="162.8" font-size="10" fill="#1a1a1a" text-anchor="middle" stroke="#1a1a1a" stroke-width="0.25">00</text><text x="88.5" y="161" font-size="10" fill="#1a1a1a" text-anchor="middle" stroke="#1a1a1a" stroke-width="0.25">30</text><text transform="translate(35.6,167.6) rotate(12)" font-size="10.2" font-weight="bold" fill="#1a1a1a" stroke="#1a1a1a" stroke-width="0.3">X <tspan font-style="italic" font-size="9">(m)</tspan></text><text transform="translate(67,171) rotate(-8)" font-size="10" font-weight="bold" fill="#1a1a1a" stroke="#1a1a1a" stroke-width="0.3">Y <tspan font-style="italic" font-size="9">(m)</tspan></text><text transform="translate(7.6,71.8) rotate(90)" font-size="9.3" font-weight="bold" fill="#1a1a1a" stroke="#1a1a1a" stroke-width="0.2">Z <tspan font-size="8.8">(m)</tspan></text></g><g transform="translate(90,172)"><polygon points="29.4,9.8 51.9,6.8 89.6,13.6 89.6,151.0 66.2,155.3 29.6,147.6" fill="rgb(222,222,216)"/><polygon points="32.5,14.2 51.9,11.2 86.2,18.5 86.2,147.4 66.2,151.3 32.5,144.5" fill="rgb(48,46,237)"/><g clip-path="url(#clipbox)"><rect x="51.9" y="0" width="14.300000000000004" height="160" fill="rgb(0,0,60)" opacity="0.06"/><g filter="url(#soft)"><g transform="matrix(1,0.2,0,1,0,-13.240)"><rect x="31.5" y="80.5" width="35.5" height="36.599999999999994" fill="url(#g11)"/></g><g transform="matrix(1,-0.195,0,1,0,12.909)"><rect x="66.2" y="79.8" width="21.0" height="37.2" fill="url(#g12)"/></g><polygon points="32.5,109.2 51.3,107.6 86.2,111.5 86.2,113.8 66.2,117 32.5,111.5" fill="rgb(25,185,150)"/><polyline points="32.5,109.2 51.3,107.6 86.2,111.5" fill="none" stroke="rgb(40,210,200)" stroke-width="0.8" opacity="0.7"/><polygon points="86.2,113.8 66.2,117 32.5,111.5 31,160 88,160" fill="rgb(48,46,237)"/><polygon points="32.1,44 40.4,43.3 48.7,42 52.8,44.7 59.7,44 69.3,39.2 77.6,46.1 86.2,47.5 86.2,80 66.2,81.6 66.2,80 32.5,74.3" fill="rgb(15,212,155)"/><polygon points="50,44.5 52.8,44.7 59.7,44 69.3,39.2 77.6,46.1 86.2,47.5 86.2,53.5 72,57 62,51 52,48" fill="rgb(25,112,232)"/><polygon points="60,51 72,57 86.2,53.5 86.2,56.5 72,59.5" fill="rgb(0,190,242)"/><polygon points="32.1,44 40.4,43.3 48.7,42 52.8,44.7 51,50 45,51.5 38,49" fill="rgb(20,150,135)"/><polygon points="32.1,44 38,49 33,50" fill="rgb(20,190,160)"/><polygon points="50,48.5 33.5,73.8 50,76.2" fill="rgb(140,220,110)"/><polygon points="50,48.5 65.2,66 65.2,80.6 50,76.2" fill="rgb(190,222,50)"/></g></g><text x="34.2" y="30.8" font-size="18" fill="#fff" text-anchor="start" stroke="#fff" stroke-width="0.35">h</text><text x="34.0" y="141" font-size="12.45" fill="#f4f4ff" text-anchor="start">300 days</text><text x="29" y="17.1" font-size="10" fill="#1a1a1a" text-anchor="end" stroke="#1a1a1a" stroke-width="0.25">0</text><text x="29" y="61.6" font-size="10" fill="#1a1a1a" text-anchor="end" stroke="#1a1a1a" stroke-width="0.25">50</text><text x="29" y="105.0" font-size="10" fill="#1a1a1a" text-anchor="end" stroke="#1a1a1a" stroke-width="0.25">100</text><text x="29" y="148.8" font-size="10" fill="#1a1a1a" text-anchor="end" stroke="#1a1a1a" stroke-width="0.25">150</text><text x="29.5" y="155.5" font-size="10" fill="#1a1a1a" text-anchor="end" stroke="#1a1a1a" stroke-width="0.25">60</text><text x="43" y="159.6" font-size="10" fill="#1a1a1a" text-anchor="middle" stroke="#1a1a1a" stroke-width="0.25">30</text><text x="65" y="162.8" font-size="10" fill="#1a1a1a" text-anchor="middle" stroke="#1a1a1a" stroke-width="0.25">00</text><text x="88.5" y="161" font-size="10" fill="#1a1a1a" text-anchor="middle" stroke="#1a1a1a" stroke-width="0.25">30</text><text transform="translate(35.6,167.6) rotate(12)" font-size="10.2" font-weight="bold" fill="#1a1a1a" stroke="#1a1a1a" stroke-width="0.3">X <tspan font-style="italic" font-size="9">(m)</tspan></text><text transform="translate(67,171) rotate(-8)" font-size="10" font-weight="bold" fill="#1a1a1a" stroke="#1a1a1a" stroke-width="0.3">Y <tspan font-style="italic" font-size="9">(m)</tspan></text><text transform="translate(7.6,71.8) rotate(90)" font-size="9.3" font-weight="bold" fill="#1a1a1a" stroke="#1a1a1a" stroke-width="0.2">Z <tspan font-size="8.8">(m)</tspan></text></g><g transform="translate(180,172)"><polygon points="29.4,9.8 51.9,6.8 89.6,13.6 89.6,151.0 66.2,155.3 29.6,147.6" fill="rgb(222,222,216)"/><polygon points="32.5,14.2 51.9,11.2 86.2,18.5 86.2,147.4 66.2,151.3 32.5,144.5" fill="rgb(48,46,237)"/><g clip-path="url(#clipbox)"><rect x="51.9" y="0" width="14.300000000000004" height="160" fill="rgb(0,0,60)" opacity="0.06"/><g filter="url(#soft)"><path d="M32.5,76 L32.5,80 Q34,87 37,89 Q42,93.5 44.9,94 L56.2,95.8 Q66,95 73.1,92.3 Q81,89.5 86.6,85.5 L86.6,76 Z" fill="rgb(10,18,222)"/><polygon points="33.1,50.5 48.9,43.8 55,49.4 61.8,53.9 68.6,56.7 77.6,56.2 86.6,52.2 86.6,84 66.3,84 66.3,87 52.8,77.1 32.5,79.3" fill="rgb(20,222,172)"/><polygon points="48.9,43.8 33.1,70.5 51.7,70" fill="rgb(135,224,125)"/><path d="M48.9,43.8 Q58,53 62,62 Q65.5,70 65.4,78 L65.3,86.5 L52.8,77.1 L51.7,70 Z" fill="url(#trii)"/><polygon points="32.5,70.3 51.7,69.6 55,71 55,76.5 51.7,75.6 32.5,76.2" fill="rgb(238,205,40)"/><polygon points="32.5,71.8 51.7,71.2 55,72.4 55,75 51.7,74.1 32.5,74.7" fill="rgb(242,165,45)"/><polygon points="66.3,77.7 86.6,77.7 86.6,84 66.3,84" fill="rgb(225,222,45)"/><polygon points="66.3,79.3 86.6,79.3 86.6,82.2 66.3,82.2" fill="rgb(240,165,50)"/><polygon points="32.5,79.3 52.8,77.1 65.2,86.7 64.1,90 52.8,93.4 42.7,89 32.5,81" fill="rgb(30,112,168)"/><polyline points="32.5,79.3 52.8,77.1 65.2,86.7" fill="none" stroke="rgb(40,160,200)" stroke-width="0.8"/><polygon points="33.1,44.9 37,43.8 42.7,42.7 48.9,40.4 53.9,42.1 59.6,40.4 65.2,39.3 69.1,37 70.8,38.7 76.5,42.7 83.2,47.2 86.6,49.4 86.6,52.2 77.6,56.2 68.6,56.7 61.8,53.9 55,49.4 48.9,43.8 42.7,50.5 33.1,50.5" fill="rgb(10,18,222)"/><polyline points="33.1,50.5 42.7,50.5 48.9,43.8 55,49.4 61.8,53.9 68.6,56.7 77.6,56.2 86.6,52.2" fill="none" stroke="rgb(60,70,160)" stroke-width="0.8"/></g></g><text x="34.2" y="30.8" font-size="18" fill="#fff" text-anchor="start" stroke="#fff" stroke-width="0.35">i</text><text x="34.0" y="141" font-size="12.45" fill="#f4f4ff" text-anchor="start">1200 days</text><text x="29" y="17.1" font-size="10" fill="#1a1a1a" text-anchor="end" stroke="#1a1a1a" stroke-width="0.25">0</text><text x="29" y="61.6" font-size="10" fill="#1a1a1a" text-anchor="end" stroke="#1a1a1a" stroke-width="0.25">50</text><text x="29" y="105.0" font-size="10" fill="#1a1a1a" text-anchor="end" stroke="#1a1a1a" stroke-width="0.25">100</text><text x="29" y="148.8" font-size="10" fill="#1a1a1a" text-anchor="end" stroke="#1a1a1a" stroke-width="0.25">150</text><text x="29.5" y="155.5" font-size="10" fill="#1a1a1a" text-anchor="end" stroke="#1a1a1a" stroke-width="0.25">60</text><text x="43" y="159.6" font-size="10" fill="#1a1a1a" text-anchor="middle" stroke="#1a1a1a" stroke-width="0.25">30</text><text x="65" y="162.8" font-size="10" fill="#1a1a1a" text-anchor="middle" stroke="#1a1a1a" stroke-width="0.25">00</text><text x="88.5" y="161" font-size="10" fill="#1a1a1a" text-anchor="middle" stroke="#1a1a1a" stroke-width="0.25">30</text><text transform="translate(35.6,167.6) rotate(12)" font-size="10.2" font-weight="bold" fill="#1a1a1a" stroke="#1a1a1a" stroke-width="0.3">X <tspan font-style="italic" font-size="9">(m)</tspan></text><text transform="translate(67,171) rotate(-8)" font-size="10" font-weight="bold" fill="#1a1a1a" stroke="#1a1a1a" stroke-width="0.3">Y <tspan font-style="italic" font-size="9">(m)</tspan></text><text transform="translate(7.6,71.8) rotate(90)" font-size="9.3" font-weight="bold" fill="#1a1a1a" stroke="#1a1a1a" stroke-width="0.2">Z <tspan font-size="8.8">(m)</tspan></text></g><g transform="translate(270,172)"><polygon points="29.4,9.8 51.9,6.8 89.6,13.6 89.6,151.0 66.2,155.3 29.6,147.6" fill="rgb(222,222,216)"/><polygon points="32.5,14.2 51.9,11.2 86.2,18.5 86.2,147.4 66.2,151.3 32.5,144.5" fill="rgb(48,46,237)"/><g clip-path="url(#clipbox)"><rect x="51.9" y="0" width="14.300000000000004" height="160" fill="rgb(0,0,60)" opacity="0.06"/><g filter="url(#soft)"><g transform="matrix(1,0.12,0,1,0,-7.944)"><rect x="31.5" y="83.0" width="35.5" height="40.5" fill="url(#g13)"/></g><g transform="matrix(1,-0.03,0,1,0,1.986)"><rect x="66.2" y="82.8" width="21.0" height="40.7" fill="url(#g14)"/></g><polygon points="32.7,113.1 51.3,111.5 86.2,114.6 86.2,120.1 66.1,121.6 32.7,115.4" fill="rgb(25,185,150)"/><polyline points="32.7,113.1 51.3,111.5 86.2,114.6" fill="none" stroke="rgb(40,210,200)" stroke-width="0.8" opacity="0.7"/><polygon points="86.2,120.1 66.1,121.6 32.7,115.4 31,160 88,160" fill="rgb(48,46,237)"/><polygon points="33.5,42 55.6,38.5 69.3,39.9 83.1,43.3 86.2,45 86.2,80.6 66.2,83.3 33.5,79.3" fill="rgb(28,118,222)"/><polygon points="66.2,45 83.1,43.3 86.2,45 86.2,80.6 66.2,83.3" fill="rgb(30,105,218)"/><path d="M33.5,42 L36.3,41.3 Q39,44 41,49 L48.7,58.5 Q52,54 56,49 L59.4,45.6 L61.6,46.5 Q63.5,50 64.5,55 L65.2,61 L65.4,83.3 L33.5,79.3 Z" fill="rgb(40,212,62)"/><path d="M35,43 Q38,46 40,52 L39,65 L35,70 Z" fill="rgb(90,222,100)"/><polygon points="65.4,78.5 86.2,77.5 86.2,80.6 65.4,82" fill="rgb(10,185,232)"/><circle cx="38" cy="81.5" r="0.9" fill="rgb(220,40,40)"/><circle cx="52" cy="82.5" r="0.9" fill="rgb(220,40,40)"/><circle cx="60" cy="83.3" r="0.9" fill="rgb(220,40,40)"/></g></g><text x="34.2" y="30.8" font-size="18" fill="#fff" text-anchor="start" stroke="#fff" stroke-width="0.35">j</text><text x="34.0" y="141" font-size="12.45" fill="#f4f4ff" text-anchor="start">100 days</text><text x="29" y="17.1" font-size="10" fill="#1a1a1a" text-anchor="end" stroke="#1a1a1a" stroke-width="0.25">0</text><text x="29" y="61.6" font-size="10" fill="#1a1a1a" text-anchor="end" stroke="#1a1a1a" stroke-width="0.25">50</text><text x="29" y="105.0" font-size="10" fill="#1a1a1a" text-anchor="end" stroke="#1a1a1a" stroke-width="0.25">100</text><text x="29" y="148.8" font-size="10" fill="#1a1a1a" text-anchor="end" stroke="#1a1a1a" stroke-width="0.25">150</text><text x="29.5" y="155.5" font-size="10" fill="#1a1a1a" text-anchor="end" stroke="#1a1a1a" stroke-width="0.25">60</text><text x="43" y="159.6" font-size="10" fill="#1a1a1a" text-anchor="middle" stroke="#1a1a1a" stroke-width="0.25">30</text><text x="65" y="162.8" font-size="10" fill="#1a1a1a" text-anchor="middle" stroke="#1a1a1a" stroke-width="0.25">00</text><text x="88.5" y="161" font-size="10" fill="#1a1a1a" text-anchor="middle" stroke="#1a1a1a" stroke-width="0.25">30</text><text transform="translate(35.6,167.6) rotate(12)" font-size="10.2" font-weight="bold" fill="#1a1a1a" stroke="#1a1a1a" stroke-width="0.3">X <tspan font-style="italic" font-size="9">(m)</tspan></text><text transform="translate(67,171) rotate(-8)" font-size="10" font-weight="bold" fill="#1a1a1a" stroke="#1a1a1a" stroke-width="0.3">Y <tspan font-style="italic" font-size="9">(m)</tspan></text><text transform="translate(7.6,71.8) rotate(90)" font-size="9.3" font-weight="bold" fill="#1a1a1a" stroke="#1a1a1a" stroke-width="0.2">Z <tspan font-size="8.8">(m)</tspan></text></g><g transform="translate(360,172)"><polygon points="29.4,9.8 51.9,6.8 89.6,13.6 89.6,151.0 66.2,155.3 29.6,147.6" fill="rgb(222,222,216)"/><polygon points="32.5,14.2 51.9,11.2 86.2,18.5 86.2,147.4 66.2,151.3 32.5,144.5" fill="rgb(48,46,237)"/><g clip-path="url(#clipbox)"><rect x="51.9" y="0" width="14.300000000000004" height="160" fill="rgb(0,0,60)" opacity="0.06"/><g filter="url(#soft)"><g transform="matrix(1,0.13,0,1,0,-8.606)"><rect x="31.5" y="83.8" width="35.5" height="34.7" fill="url(#g15)"/></g><g transform="matrix(1,-0.12,0,1,0,7.944)"><rect x="66.2" y="83.5" width="21.0" height="35.0" fill="url(#g16)"/></g><polygon points="32.7,107.6 51.3,106.9 86.3,110.7 86.3,116.2 67.6,118.5 32.7,112.3" fill="rgb(25,185,150)"/><polyline points="32.7,107.6 51.3,106.9 86.3,110.7" fill="none" stroke="rgb(40,210,200)" stroke-width="0.8" opacity="0.7"/><polygon points="86.3,116.2 67.6,118.5 32.7,112.3 31,160 88,160" fill="rgb(48,46,237)"/><polygon points="33.5,41.3 55.6,38.5 69.3,39.9 84.5,43.3 86.3,45 86.3,80.8 66.2,82.8 33.5,77" fill="rgb(28,120,224)"/><polygon points="36,42 55.6,38.5 62,40 50,44" fill="rgb(40,140,232)"/><path d="M33.5,41.3 L38.8,41.3 Q40,50 42,56 Q45,64 51.2,67.6 Q56,65 58.5,57 L60.2,48 L60.8,45.6 L63.5,45.2 Q64.8,48 65.2,52 L65.4,83.2 L33.5,79.2 Z" fill="rgb(40,212,62)"/><path d="M34,43 L37.5,43 Q38.5,52 40.5,58 L37,62 L34,60 Z" fill="rgb(95,222,100)"/><polygon points="65.4,78.6 86.3,77.3 86.3,80.8 65.4,82" fill="rgb(10,185,232)"/><polygon points="33,77.5 36,77 38,79.5 33,80" fill="rgb(150,225,80)"/><circle cx="35" cy="80.8" r="1.0" fill="rgb(235,80,40)"/><circle cx="44" cy="82" r="1.0" fill="rgb(235,80,40)"/><circle cx="55" cy="83.2" r="1.0" fill="rgb(235,80,40)"/><circle cx="67.5" cy="84.5" r="1.0" fill="rgb(235,80,40)"/><circle cx="83" cy="82.6" r="1.0" fill="rgb(235,80,40)"/></g></g><text x="34.2" y="30.8" font-size="18" fill="#fff" text-anchor="start" stroke="#fff" stroke-width="0.35">k</text><text x="34.0" y="141" font-size="12.45" fill="#f4f4ff" text-anchor="start">300 days</text><text x="29" y="17.1" font-size="10" fill="#1a1a1a" text-anchor="end" stroke="#1a1a1a" stroke-width="0.25">0</text><text x="29" y="61.6" font-size="10" fill="#1a1a1a" text-anchor="end" stroke="#1a1a1a" stroke-width="0.25">50</text><text x="29" y="105.0" font-size="10" fill="#1a1a1a" text-anchor="end" stroke="#1a1a1a" stroke-width="0.25">100</text><text x="29" y="148.8" font-size="10" fill="#1a1a1a" text-anchor="end" stroke="#1a1a1a" stroke-width="0.25">150</text><text x="29.5" y="155.5" font-size="10" fill="#1a1a1a" text-anchor="end" stroke="#1a1a1a" stroke-width="0.25">60</text><text x="43" y="159.6" font-size="10" fill="#1a1a1a" text-anchor="middle" stroke="#1a1a1a" stroke-width="0.25">30</text><text x="65" y="162.8" font-size="10" fill="#1a1a1a" text-anchor="middle" stroke="#1a1a1a" stroke-width="0.25">00</text><text x="88.5" y="161" font-size="10" fill="#1a1a1a" text-anchor="middle" stroke="#1a1a1a" stroke-width="0.25">30</text><text transform="translate(35.6,167.6) rotate(12)" font-size="10.2" font-weight="bold" fill="#1a1a1a" stroke="#1a1a1a" stroke-width="0.3">X <tspan font-style="italic" font-size="9">(m)</tspan></text><text transform="translate(67,171) rotate(-8)" font-size="10" font-weight="bold" fill="#1a1a1a" stroke="#1a1a1a" stroke-width="0.3">Y <tspan font-style="italic" font-size="9">(m)</tspan></text><text transform="translate(7.6,71.8) rotate(90)" font-size="9.3" font-weight="bold" fill="#1a1a1a" stroke="#1a1a1a" stroke-width="0.2">Z <tspan font-size="8.8">(m)</tspan></text></g><g transform="translate(450,172)"><polygon points="29.4,9.8 51.9,6.8 89.6,13.6 89.6,151.0 66.2,155.3 29.6,147.6" fill="rgb(222,222,216)"/><polygon points="32.5,14.2 51.9,11.2 86.2,18.5 86.2,147.4 66.2,151.3 32.5,144.5" fill="rgb(48,46,237)"/><g clip-path="url(#clipbox)"><rect x="51.9" y="0" width="14.300000000000004" height="160" fill="rgb(0,0,60)" opacity="0.06"/><g filter="url(#soft)"><path d="M64,84 L86.6,84 L86.6,89 Q80,94.8 70,94.5 L64,93 Z" fill="rgb(20,190,200)"/><path d="M64,85 L86.6,85 L86.6,88.4 Q80,93.6 70,93.4 L64,92 Z" fill="rgb(22,75,212)"/><polygon points="31.8,42.1 39.3,40.2 48.7,37.4 56.2,39.3 65.6,43 84.4,44.9 86.6,45 86.6,86 66,86 32.7,78.5" fill="rgb(32,138,205)"/><polygon points="42,44 48.7,38.5 56.2,40 60,45 53,55 46,52" fill="rgb(42,150,215)"/><polygon points="32.6,47 34.5,46 34.5,78 32.6,79" fill="rgb(40,200,160)"/><path d="M65.2,88 L65.2,48 Q65.6,45.6 68.3,45.4 Q71,45.5 71.6,47 L71.6,45 L81.8,45 Q82.8,44.4 84.6,44.5 Q86.6,45 86.6,47 L86.6,88 Z" fill="rgb(40,215,70)"/><rect x="67" y="47.3" width="18.3" height="38.5" rx="1.6" fill="rgb(155,95,50)"/><path d="M71.0,44 L82.4,44 L82.2,58 Q81.2,73.5 77,80.5 Q72.8,73.5 71.8,58 Z" fill="rgb(40,205,140)"/><path d="M72.3,44 L81.1,44 L80.9,58 Q80.1,71.5 77,77.8 Q73.9,71.5 73.1,58 Z" fill="rgb(28,140,230)"/><path d="M67,86 L67,80.8 Q72,79.6 74.5,78.2 L77,80.8 L79.5,78.2 Q82,79.6 85.3,80.8 L85.3,86 Z" fill="rgb(242,85,32)"/><path d="M70,81 L74.5,79 L77,81.5 L79.5,79 L84,81 L80,83 L74,83 Z" fill="rgb(245,125,40)"/><path d="M32.7,78.4 Q38,76 43.1,75.6 Q48,75.6 51.8,76.7 Q57,78 60.5,80 L66,83.3 L66,85.4 Q65.5,89.5 63.8,92 Q61,95.5 57.3,97.4 Q53,99.8 48.5,99.6 Q43.5,99.5 39.8,97.4 Q36,95 34.4,92 Q32.7,88.5 32.7,84.4 Z" fill="rgb(20,200,150)"/><path d="M32.7,78.6 Q38,76.8 43.1,76.4 Q48,76.4 51.8,77.5 Q57,78.8 60.5,80.8 L65.5,84 L65.5,85.6 Q65,89 63.2,91.5 Q60.5,94.8 57,96.6 Q53,98.7 48.5,98.6 Q43.8,98.5 40.3,96.6 Q36.7,94.4 35.2,91.6 Q33.5,88.3 33.4,84.4 Z" fill="rgb(42,220,62)"/><path d="M34.4,78.6 Q39,77.6 45.3,78.4 L44.5,81.1 Q39,80.2 34.4,81 Z" fill="rgb(215,205,60)"/><path d="M54,82.2 Q60,83.5 64.9,86 L63.5,88.2 Q58.5,86 54.5,85 Z" fill="rgb(205,215,60)"/></g></g><text x="34.2" y="30.8" font-size="18" fill="#fff" text-anchor="start" stroke="#fff" stroke-width="0.35">l</text><text x="34.0" y="141" font-size="12.45" fill="#f4f4ff" text-anchor="start">1200 days</text><text x="29" y="17.1" font-size="10" fill="#1a1a1a" text-anchor="end" stroke="#1a1a1a" stroke-width="0.25">0</text><text x="29" y="61.6" font-size="10" fill="#1a1a1a" text-anchor="end" stroke="#1a1a1a" stroke-width="0.25">50</text><text x="29" y="105.0" font-size="10" fill="#1a1a1a" text-anchor="end" stroke="#1a1a1a" stroke-width="0.25">100</text><text x="29" y="148.8" font-size="10" fill="#1a1a1a" text-anchor="end" stroke="#1a1a1a" stroke-width="0.25">150</text><text x="29.5" y="155.5" font-size="10" fill="#1a1a1a" text-anchor="end" stroke="#1a1a1a" stroke-width="0.25">60</text><text x="43" y="159.6" font-size="10" fill="#1a1a1a" text-anchor="middle" stroke="#1a1a1a" stroke-width="0.25">30</text><text x="65" y="162.8" font-size="10" fill="#1a1a1a" text-anchor="middle" stroke="#1a1a1a" stroke-width="0.25">00</text><text x="88.5" y="161" font-size="10" fill="#1a1a1a" text-anchor="middle" stroke="#1a1a1a" stroke-width="0.25">30</text><text transform="translate(35.6,167.6) rotate(12)" font-size="10.2" font-weight="bold" fill="#1a1a1a" stroke="#1a1a1a" stroke-width="0.3">X <tspan font-style="italic" font-size="9">(m)</tspan></text><text transform="translate(67,171) rotate(-8)" font-size="10" font-weight="bold" fill="#1a1a1a" stroke="#1a1a1a" stroke-width="0.3">Y <tspan font-style="italic" font-size="9">(m)</tspan></text><text transform="translate(7.6,71.8) rotate(90)" font-size="9.3" font-weight="bold" fill="#1a1a1a" stroke="#1a1a1a" stroke-width="0.2">Z <tspan font-size="8.8">(m)</tspan></text></g>
<rect x="184.80" y="355.7" width="26.40" height="18.6" fill="url(#g17)"/><rect x="210.90" y="355.7" width="26.40" height="18.6" fill="url(#g18)"/><rect x="237.00" y="355.7" width="26.40" height="18.6" fill="url(#g19)"/><rect x="263.10" y="355.7" width="26.40" height="18.6" fill="url(#g20)"/><rect x="289.20" y="355.7" width="26.40" height="18.6" fill="url(#g21)"/><rect x="315.30" y="355.7" width="26.40" height="18.6" fill="url(#g22)"/><rect x="341.40" y="355.7" width="26.40" height="18.6" fill="url(#g23)"/><rect x="367.50" y="355.7" width="26.40" height="18.6" fill="url(#g24)"/><line x1="210.90" y1="355.7" x2="210.90" y2="374.3" stroke="rgba(0,0,0,0.35)" stroke-width="0.6"/><line x1="237.00" y1="355.7" x2="237.00" y2="374.3" stroke="rgba(0,0,0,0.35)" stroke-width="0.6"/><line x1="263.10" y1="355.7" x2="263.10" y2="374.3" stroke="rgba(0,0,0,0.35)" stroke-width="0.6"/><line x1="289.20" y1="355.7" x2="289.20" y2="374.3" stroke="rgba(0,0,0,0.35)" stroke-width="0.6"/><line x1="315.30" y1="355.7" x2="315.30" y2="374.3" stroke="rgba(0,0,0,0.35)" stroke-width="0.6"/><line x1="341.40" y1="355.7" x2="341.40" y2="374.3" stroke="rgba(0,0,0,0.35)" stroke-width="0.6"/><line x1="367.50" y1="355.7" x2="367.50" y2="374.3" stroke="rgba(0,0,0,0.35)" stroke-width="0.6"/><text x="174.5" y="389.6" font-size="12.3" fill="#1a1a1a" text-anchor="start" stroke="#1a1a1a" stroke-width="0.25">0.01</text><text x="200.5" y="389.6" font-size="12.3" fill="#1a1a1a" text-anchor="start" stroke="#1a1a1a" stroke-width="0.25">0.03</text><text x="226.5" y="389.6" font-size="12.3" fill="#1a1a1a" text-anchor="start" stroke="#1a1a1a" stroke-width="0.25">0.05</text><text x="252.5" y="389.6" font-size="12.3" fill="#1a1a1a" text-anchor="start" stroke="#1a1a1a" stroke-width="0.25">0.07</text><text x="278.5" y="389.6" font-size="12.3" fill="#1a1a1a" text-anchor="start" stroke="#1a1a1a" stroke-width="0.25">0.09</text><text x="304.5" y="389.6" font-size="12.3" fill="#1a1a1a" text-anchor="start" stroke="#1a1a1a" stroke-width="0.25">0.11</text><text x="330.5" y="389.6" font-size="12.3" fill="#1a1a1a" text-anchor="start" stroke="#1a1a1a" stroke-width="0.25">0.13</text><text x="356.5" y="389.6" font-size="12.3" fill="#1a1a1a" text-anchor="start" stroke="#1a1a1a" stroke-width="0.25">0.15</text><text x="382.5" y="389.6" font-size="12.3" fill="#1a1a1a" text-anchor="start" stroke="#1a1a1a" stroke-width="0.25">0.16</text><text x="157.0" y="389.3" font-size="11" fill="#1a1a1a" text-anchor="start" stroke="#1a1a1a" stroke-width="0.25">S</text><text x="163.5" y="392.2" font-size="7" fill="#1a1a1a" text-anchor="start">g</text><text x="169.3" y="389.6" font-size="12.3" fill="#1a1a1a" text-anchor="start" stroke="#1a1a1a" stroke-width="0.25">:</text>
</svg>
</body></html>
